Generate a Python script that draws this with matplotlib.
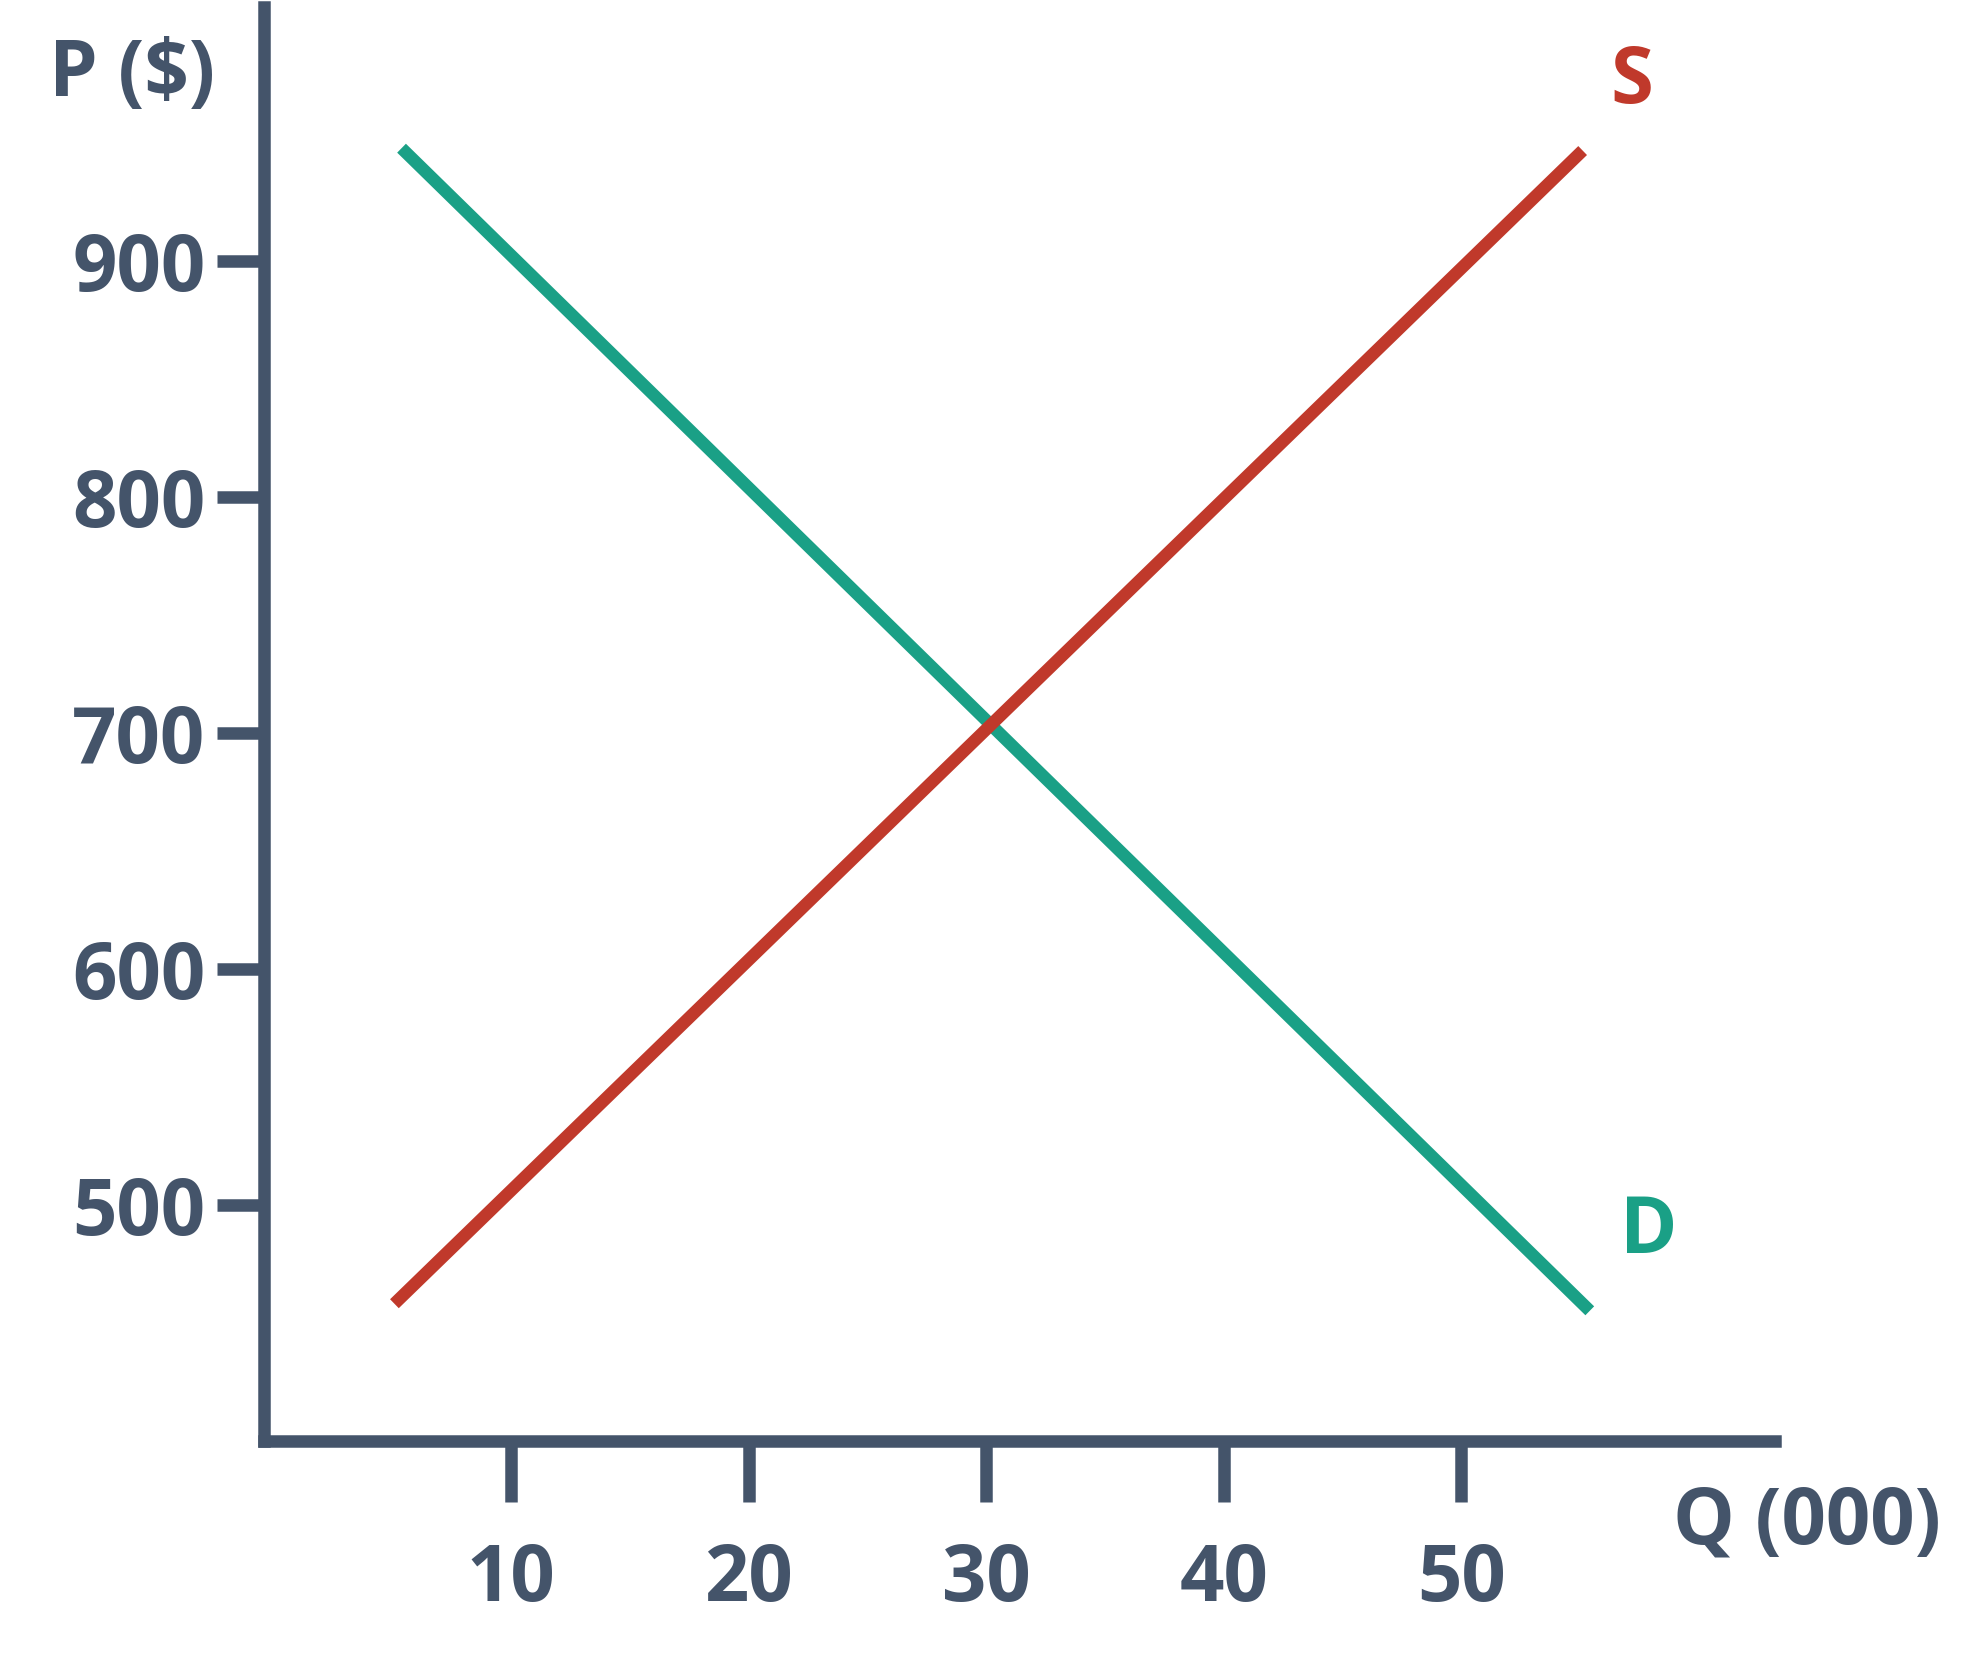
import matplotlib.pyplot as plt

# data
demand_q = [5.4, 55.4]
demand_p = [948, 455]
supply_q = [5.1, 55.1]
supply_p = [458, 947]
x_ticks = [10, 20, 30, 40, 50]
y_ticks = [500, 600, 700, 800, 900]

navy = "#44546a"
red = "#c0392b"
green = "#1aa086"

plt.rcParams['font.family'] = ['Open Sans', 'DejaVu Sans']
plt.rcParams['font.weight'] = 'bold'

fig = plt.figure(figsize=(19.68, 16.75), dpi=100)
ax = fig.add_axes([0.134, 0.140, 0.768, 0.856])

ax.plot(demand_q, demand_p, color=green, lw=9, solid_capstyle='butt')
ax.plot(supply_q, supply_p, color=red, lw=9, solid_capstyle='butt')

ax.set_xlim(-0.4, 63.2)
ax.set_ylim(400, 1008)
for s in ['top', 'right']:
    ax.spines[s].set_visible(False)
for s in ['left', 'bottom']:
    ax.spines[s].set_color(navy)
    ax.spines[s].set_linewidth(9)

ax.set_xticks(x_ticks)
ax.set_yticks(y_ticks)
ax.tick_params(axis='both', colors=navy, width=9, labelsize=56, direction='out')
ax.tick_params(axis='x', length=44, pad=28)
ax.tick_params(axis='y', length=34, pad=8)

fig.text(0.067, 0.955, "P ($)", color=navy, fontsize=56, fontweight='bold', ha='center', va='center')
fig.text(0.829, 0.951, "S", color=red, fontsize=56, fontweight='bold', ha='center', va='center')
fig.text(0.838, 0.264, "D", color=green, fontsize=56, fontweight='bold', ha='center', va='center')
fig.text(0.918, 0.091, "Q (000)", color=navy, fontsize=56, fontweight='bold', ha='center', va='center')

fig.savefig("out.png", dpi=100)
